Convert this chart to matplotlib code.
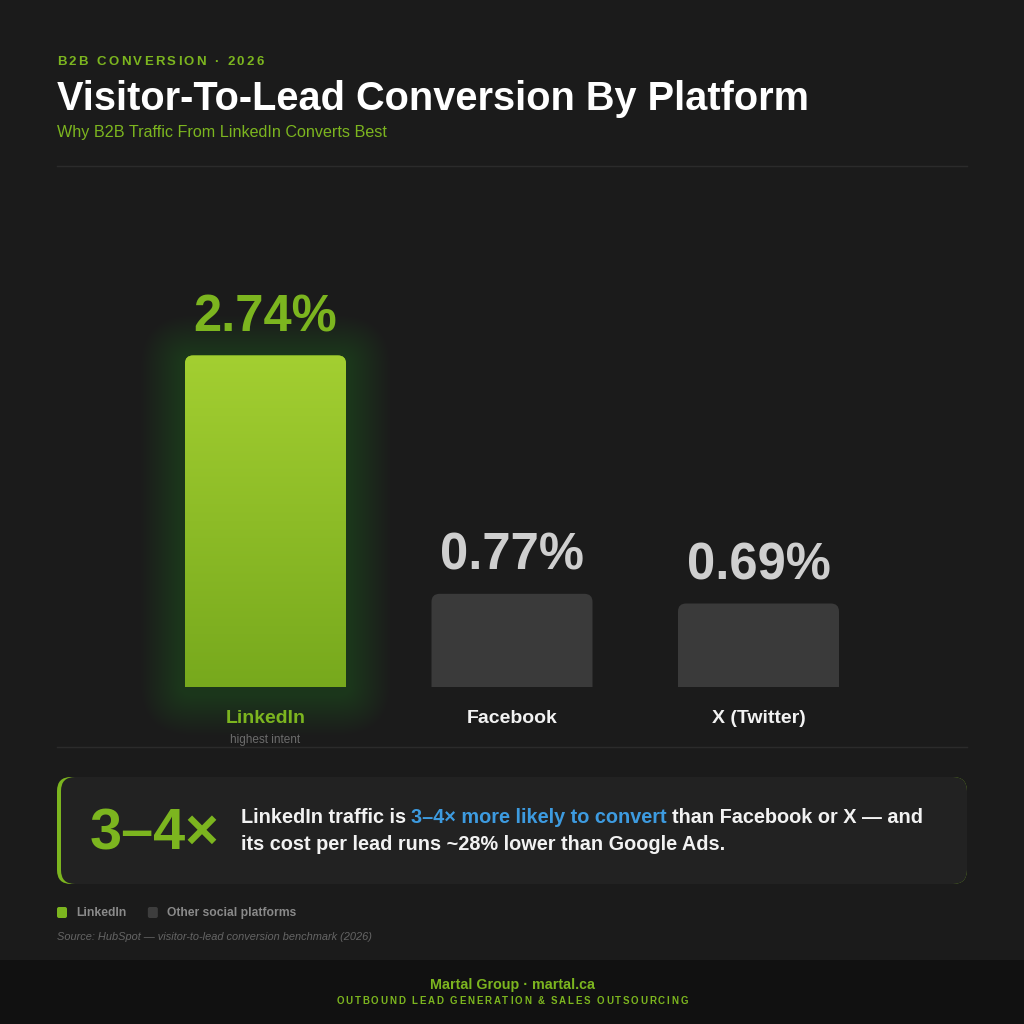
import matplotlib
matplotlib.use("Agg")
import matplotlib.pyplot as plt
import numpy as np
from matplotlib.patches import FancyBboxPatch, Rectangle
from matplotlib.colors import LinearSegmentedColormap
from matplotlib.font_manager import FontProperties, findfont
from matplotlib.ft2font import FT2Font

# --- data ---
platforms = ["LinkedIn", "Facebook", "X (Twitter)"]
rates = [2.74, 0.77, 0.69]
value_labels = ["2.74%", "0.77%", "0.69%"]
notes = ["highest intent", "", ""]
legend_labels = ["LinkedIn", "Other social platforms"]

# --- styling ---
BG = "#1b1b1b"
FOOT = "#111111"
GREEN = "#7cb51f"
GREEN_TOP = "#a3cf31"
GREEN_BOT = "#77a91d"
GREY_BAR = "#3a3a3a"
BLUE = "#3d9be0"
FONT = "Liberation Sans"
plt.rcParams["font.family"] = [FONT, "DejaVu Sans"]

W = H = 1024
fig = plt.figure(figsize=(10.24, 10.24), dpi=100, facecolor=BG)

# overlay axes in pixel coordinates (y down)
ov = fig.add_axes([0, 0, 1, 1], zorder=0)
ov.set_xlim(0, W)
ov.set_ylim(H, 0)
ov.axis("off")

_fonts = {}


def adv(s, size, weight="normal", style="normal"):
    key = (weight, style)
    if key not in _fonts:
        _fonts[key] = FT2Font(findfont(FontProperties(family=FONT, weight=weight, style=style)))
    f = _fonts[key]
    f.set_size(size, 100)
    return sum(f.load_char(ord(c)).linearHoriAdvance / 65536 for c in s)


def spaced(x, y, s, size, gap, ha="left", **kw):
    ws = [adv(c, size, kw.get("fontweight", "normal")) for c in s]
    total = sum(ws) + gap * (len(s) - 1)
    if ha == "center":
        x -= total / 2
    for c, w in zip(s, ws):
        if c != " ":
            ov.text(x, y, c, fontsize=size, ha="left", va="baseline", **kw)
        x += w + gap


# --- header ---
spaced(57, 65, "B2B CONVERSION · 2026", 9.5, 2.3, color=GREEN, fontweight="bold")
ov.text(57, 110, "Visitor-To-Lead Conversion By Platform", fontsize=28.6,
        fontweight="bold", color="white", va="baseline")
ov.text(57, 136.5, "Why B2B Traffic From LinkedIn Converts Best", fontsize=11.6,
        color=GREEN, va="baseline")
ov.plot([57, 967], [166, 166], color="#2b2b2b", lw=1)
ov.plot([57, 967], [747, 747], color="#2b2b2b", lw=1)

# --- bar chart ---
px_per_x = 246.5
px_per_y = 121.0
ax = fig.add_axes([(265.5 - 0.5 * px_per_x) / W, 1 - 687 / H, 3 * px_per_x / W, 487 / H], zorder=1)
ax.patch.set_alpha(0)
ax.axis("off")
xs = np.arange(len(platforms))
bars = ax.bar(xs, rates, width=161 / px_per_x, color=[GREEN_TOP, GREY_BAR, GREY_BAR])
ax.set_xlim(-0.5, 2.5)
ax.set_ylim(0, 487 / px_per_y)

rad = 8 / px_per_x
asp = px_per_x / px_per_y
for i, b in enumerate(bars):
    x0, w, h = b.get_x(), b.get_width(), b.get_height()
    b.set_visible(False)
    shape = FancyBboxPatch((x0, -0.2), w, h + 0.2, boxstyle=f"round,pad=0,rounding_size={rad}",
                           mutation_aspect=asp, fc=GREY_BAR if i else GREEN_BOT, lw=0)
    ax.add_patch(shape)
    if i == 0:
        # soft glow around the highlighted bar
        (l, bot), (r, top) = ax.transData.transform([(x0, 0), (x0 + w, h)])
        L, R, T, B = l, r, H - top, H - bot
        for p in np.linspace(1, 44, 30):
            ov.add_patch(FancyBboxPatch((L - p, T - p + 4), R - L + 2 * p, B - T + 2 * p,
                                        boxstyle=f"round,pad=0,rounding_size={8 + p}",
                                        fc=GREEN, alpha=0.0065, lw=0))
        cmap = LinearSegmentedColormap.from_list("g", [GREEN_BOT, GREEN_TOP])
        grad = np.linspace(0, 1, 256).reshape(-1, 1)
        im = ax.imshow(grad, extent=[x0, x0 + w, 0, h], origin="lower", aspect="auto",
                       cmap=cmap, zorder=2)
        im.set_clip_path(shape)
    ax.annotate(value_labels[i], xy=(i, h), xytext=(0, 24 * 0.72), textcoords="offset points",
                ha="center", va="baseline", fontsize=36.5, fontweight="bold",
                color=GREEN if i == 0 else "#cfcfcf")
    ax.annotate(platforms[i], xy=(i, 0), xytext=(0, -36 * 0.72), textcoords="offset points",
                ha="center", va="baseline", fontsize=14, fontweight="bold",
                color=GREEN if i == 0 else "#f2f2f2", annotation_clip=False)
    if notes[i]:
        ax.annotate(notes[i], xy=(i, 0), xytext=(0, -56 * 0.72), textcoords="offset points",
                    ha="center", va="baseline", fontsize=8.5, color="#6c6c6c",
                    annotation_clip=False)
ax.set_xlim(-0.5, 2.5)
ax.set_ylim(0, 487 / px_per_y)

# --- callout ---
ov.add_patch(FancyBboxPatch((57, 777), 910, 107, boxstyle="round,pad=0,rounding_size=14",
                            fc=GREEN, lw=0))
ov.add_patch(FancyBboxPatch((61, 777), 906, 107, boxstyle="round,pad=0,rounding_size=14",
                            fc="#222222", lw=0))
ov.text(90, 850, "3–4×", fontsize=41.5, fontweight="bold", color=GREEN, va="baseline")

CS = 14.3
sp = adv(" ", CS, "bold")
lines = [
    (241, 823, [("LinkedIn traffic is", "#f2f2f2"), ("3–4× more likely to convert", BLUE),
                ("than Facebook or X — and", "#f2f2f2")]),
    (241, 850, [("its cost per lead runs ~28% lower than Google Ads.", "#f2f2f2")]),
]
for x, y, parts in lines:
    for s, c in parts:
        ov.text(x, y, s, fontsize=CS, fontweight="bold", color=c, va="baseline")
        x += adv(s, CS, "bold") + sp

# --- legend ---
lx = 57
for lab, c in zip(legend_labels, [GREEN, "#3d3d3d"]):
    ov.add_patch(FancyBboxPatch((lx, 907), 10, 11, boxstyle="round,pad=0,rounding_size=2",
                                fc=c, lw=0))
    ov.text(lx + 19, 916, lab, fontsize=8.7, fontweight="bold", color="#8a8a8a", va="baseline")
    lx += 19 + adv(lab, 8.7, "bold") + 22

ov.text(57, 940, "Source: HubSpot — visitor-to-lead conversion benchmark (2026)",
        fontsize=7.9, style="italic", color="#656565", va="baseline")

# --- footer ---
ov.add_patch(Rectangle((0, 960), W, 64, fc=FOOT, lw=0))
ov.text(512, 989, "Martal Group · martal.ca", fontsize=10.3, fontweight="bold",
        color=GREEN, ha="center", va="baseline")
spaced(512, 1003.5, "OUTBOUND LEAD GENERATION & SALES OUTSOURCING", 7, 1.8, ha="center",
       color=GREEN, fontweight="bold")

fig.savefig("out.png", dpi=100, facecolor=BG)
